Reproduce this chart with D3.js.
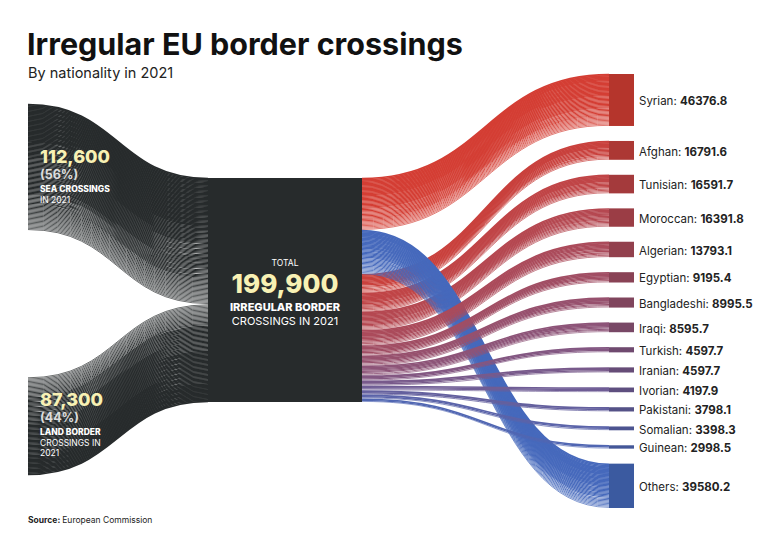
<!DOCTYPE html>
<html>
<head>
<meta charset="utf-8">
<script src="https://cdn.jsdelivr.net/npm/d3@7"></script>
<style>
  body { margin: 0; background: #fff; }
  svg { display: block; font-family: Inter, 'Open Sans', sans-serif; }
</style>
</head>
<body>
<div id="chart"></div>
<script>
// data
const TOTAL = 199900;
const ROUTES = ['SEA CROSSINGS', 'LAND BORDER'];
const ROUTE_VALUES = [112600, 87300];
const ROUTE_SHARES = ['56%', '44%'];
const NATIONALITIES = ['Syrian', 'Afghan', 'Tunisian', 'Moroccan', 'Algerian', 'Egyptian', 'Bangladeshi',
    'Iraqi', 'Turkish', 'Iranian', 'Ivorian', 'Pakistani', 'Somalian', 'Guinean', 'Others'];
const NAT_VALUES = [46376.8, 16791.6, 16591.7, 16391.8, 13793.1, 9195.4, 8995.5,
    8595.7, 4597.7, 4597.7, 4197.9, 3798.1, 3398.3, 2998.5, 39580.2];
// order in which links leave the total node (top to bottom)
const OUT_ORDER = ['Syrian', 'Others', 'Afghan', 'Tunisian', 'Moroccan', 'Algerian', 'Egyptian', 'Bangladeshi',
    'Iraqi', 'Turkish', 'Iranian', 'Ivorian', 'Pakistani', 'Somalian', 'Guinean'];
// drawing order (later on top)
const DRAW_ORDER = ['Syrian', 'Afghan', 'Tunisian', 'Moroccan', 'Others', 'Algerian', 'Egyptian', 'Bangladeshi',
    'Iraqi', 'Turkish', 'Iranian', 'Ivorian', 'Pakistani', 'Somalian', 'Guinean'];

const W = 780, H = 539;
const LEFT_X = 28;
const CENTER_X0 = 208, CENTER_X1 = 362;
const CENTER_Y0 = 178;
const RIGHT_X = 609, NODE_W = 25;
const RIGHT_Y0 = 74;
const NODE_PADDING = 15;
const LEFT_Y1 = 475;
const LEFT_Y0 = 104;
const STEP = 1.25; // spacing of the thin lines that make up a link

const DARK = '#272b2c';
const CREAM = '#f8f1b4';

const svg = d3.select('#chart').append('svg')
    .attr('width', W)
    .attr('height', H);

// value -> pixel height
const hScale = d3.scaleLinear().domain([0, TOTAL]).range([0, 224]);

const color = d3.scaleLinear()
    .domain([0, NATIONALITIES.length - 1])
    .range(['#c93b31', '#4264b2'])
    .interpolate(d3.interpolateRgb);

const linkGen = d3.linkHorizontal();

/**
 * draws a band made of many thin lines
 * solidTop: the top edge is solid and lines get thinner towards the bottom
 */
const drawBand = (g, x0, y0, x1, y1, w, stroke, solidTop) => {
    const n = Math.max(2, Math.round(w / STEP));
    const step = w / n;
    const lines = d3.range(n).map(i => {
        const off = (i + 0.5) * step;
        const t = solidTop ? i / (n - 1) : 1 - i / (n - 1);
        return {
            d: linkGen({source: [x0, y0 + off], target: [x1, y1 + off]}),
            sw: step * (1.35 - 0.8 * Math.pow(t, 1.6))
        };
    });
    g.append('g')
        .selectAll('path')
        .data(lines)
        .join('path')
        .attr('d', d => d.d)
        .style('fill', 'none')
        .style('stroke', stroke)
        .style('stroke-width', d => d.sw);
};

// ---- left links (sea / land) ----
const leftG = svg.append('g').attr('id', 'leftLinks');
const seaH = hScale(ROUTE_VALUES[0]);
const landH = hScale(ROUTE_VALUES[1]);
drawBand(leftG, LEFT_X, LEFT_Y0, CENTER_X0, CENTER_Y0, seaH, DARK, true);
drawBand(leftG, LEFT_X, LEFT_Y1 - landH, CENTER_X0, CENTER_Y0 + seaH, landH, DARK, false);

// ---- right nodes layout ----
const nodes = NATIONALITIES.map((name, i) => ({name, value: NAT_VALUES[i], idx: i, h: hScale(NAT_VALUES[i])}));
let yy = RIGHT_Y0;
nodes.forEach(n => {
    n.y0 = yy;
    n.y1 = yy + n.h;
    yy = n.y1 + NODE_PADDING;
});
const byName = new Map(nodes.map(n => [n.name, n]));
let sy = CENTER_Y0;
OUT_ORDER.forEach(name => {
    const n = byName.get(name);
    n.sy = sy;
    sy += n.h;
});

// ---- right links ----
const rightG = svg.append('g').attr('id', 'rightLinks');
DRAW_ORDER.forEach(name => {
    const n = byName.get(name);
    drawBand(rightG, CENTER_X1, n.sy, RIGHT_X, n.y0, n.h, d3.color(color(n.idx)).brighter(0.15), true);
});

// ---- nodes ----
svg.append('rect')
    .attr('x', CENTER_X0)
    .attr('y', CENTER_Y0)
    .attr('width', CENTER_X1 - CENTER_X0)
    .attr('height', hScale(TOTAL))
    .style('fill', DARK);

svg.append('g')
    .attr('id', 'rightNodes')
    .selectAll('rect')
    .data(nodes)
    .join('rect')
    .attr('x', RIGHT_X)
    .attr('y', d => d.y0)
    .attr('width', NODE_W)
    .attr('height', d => d.h)
    .style('fill', d => d3.color(color(d.idx)).darker(0.3));

// ---- right labels ----
const labels = svg.append('g')
    .attr('id', 'rightLabels')
    .selectAll('text')
    .data(nodes)
    .join('text')
    .attr('x', RIGHT_X + NODE_W + 5)
    .attr('y', d => (d.y0 + d.y1) / 2 + 1)
    .attr('dy', '0.36em')
    .style('font-size', '11.5px')
    .style('fill', '#222');
labels.append('tspan').text(d => d.name + ': ');
labels.append('tspan').style('font-weight', 700).text(d => d.value.toFixed(1));

// ---- title ----
svg.append('text')
    .attr('x', 27).attr('y', 55)
    .style('font-size', '30.5px').style('font-weight', 700).style('fill', '#111')
    .text('Irregular EU border crossings');
svg.append('text')
    .attr('x', 28).attr('y', 78)
    .style('font-size', '14.5px').style('fill', '#222')
    .text('By nationality in 2021');

// ---- left labels ----
const leftText = (x, y, num, share, l1, l2, l3) => {
    const g = svg.append('g');
    g.append('text').attr('x', x).attr('y', y)
        .style('font-size', '18px').style('font-weight', 800).style('fill', CREAM).text(num);
    g.append('text').attr('x', x).attr('y', y + 16)
        .style('font-size', '12.5px').style('font-weight', 700).style('fill', '#ddd').text('(' + share + ')');
    g.append('text').attr('x', x).attr('y', y + 29)
        .style('font-size', '8.5px').style('font-weight', 800).style('fill', '#fff').text(l1);
    [l2, l3].filter(Boolean).forEach((t, i) => {
        g.append('text').attr('x', x).attr('y', y + 40 + i * 10)
            .style('font-size', '8.5px').style('fill', '#fff').text(t);
    });
};
leftText(40, 163, d3.format(',')(ROUTE_VALUES[0]), ROUTE_SHARES[0], ROUTES[0], 'IN 2021');
leftText(40, 406, d3.format(',')(ROUTE_VALUES[1]), ROUTE_SHARES[1], ROUTES[1], 'CROSSINGS IN', '2021');

// ---- centre labels ----
const cx = (CENTER_X0 + CENTER_X1) / 2;
svg.append('text').attr('x', cx).attr('y', 266).attr('text-anchor', 'middle')
    .style('font-size', '8.5px').style('fill', '#fff').text('TOTAL');
svg.append('text').attr('x', cx).attr('y', 293).attr('text-anchor', 'middle')
    .style('font-size', '26px').style('font-weight', 800).style('fill', CREAM).text(d3.format(',')(TOTAL));
svg.append('text').attr('x', cx).attr('y', 311).attr('text-anchor', 'middle')
    .style('font-size', '11px').style('font-weight', 800).style('fill', '#fff').text('IRREGULAR BORDER');
svg.append('text').attr('x', cx).attr('y', 325).attr('text-anchor', 'middle')
    .style('font-size', '11px').style('fill', '#fff').text('CROSSINGS IN 2021');

// ---- source ----
const src = svg.append('text').attr('x', 28).attr('y', 523)
    .style('font-size', '8.5px').style('fill', '#222');
src.append('tspan').style('font-weight', 700).text('Source: ');
src.append('tspan').text('European Commission');
</script>
</body>
</html>
